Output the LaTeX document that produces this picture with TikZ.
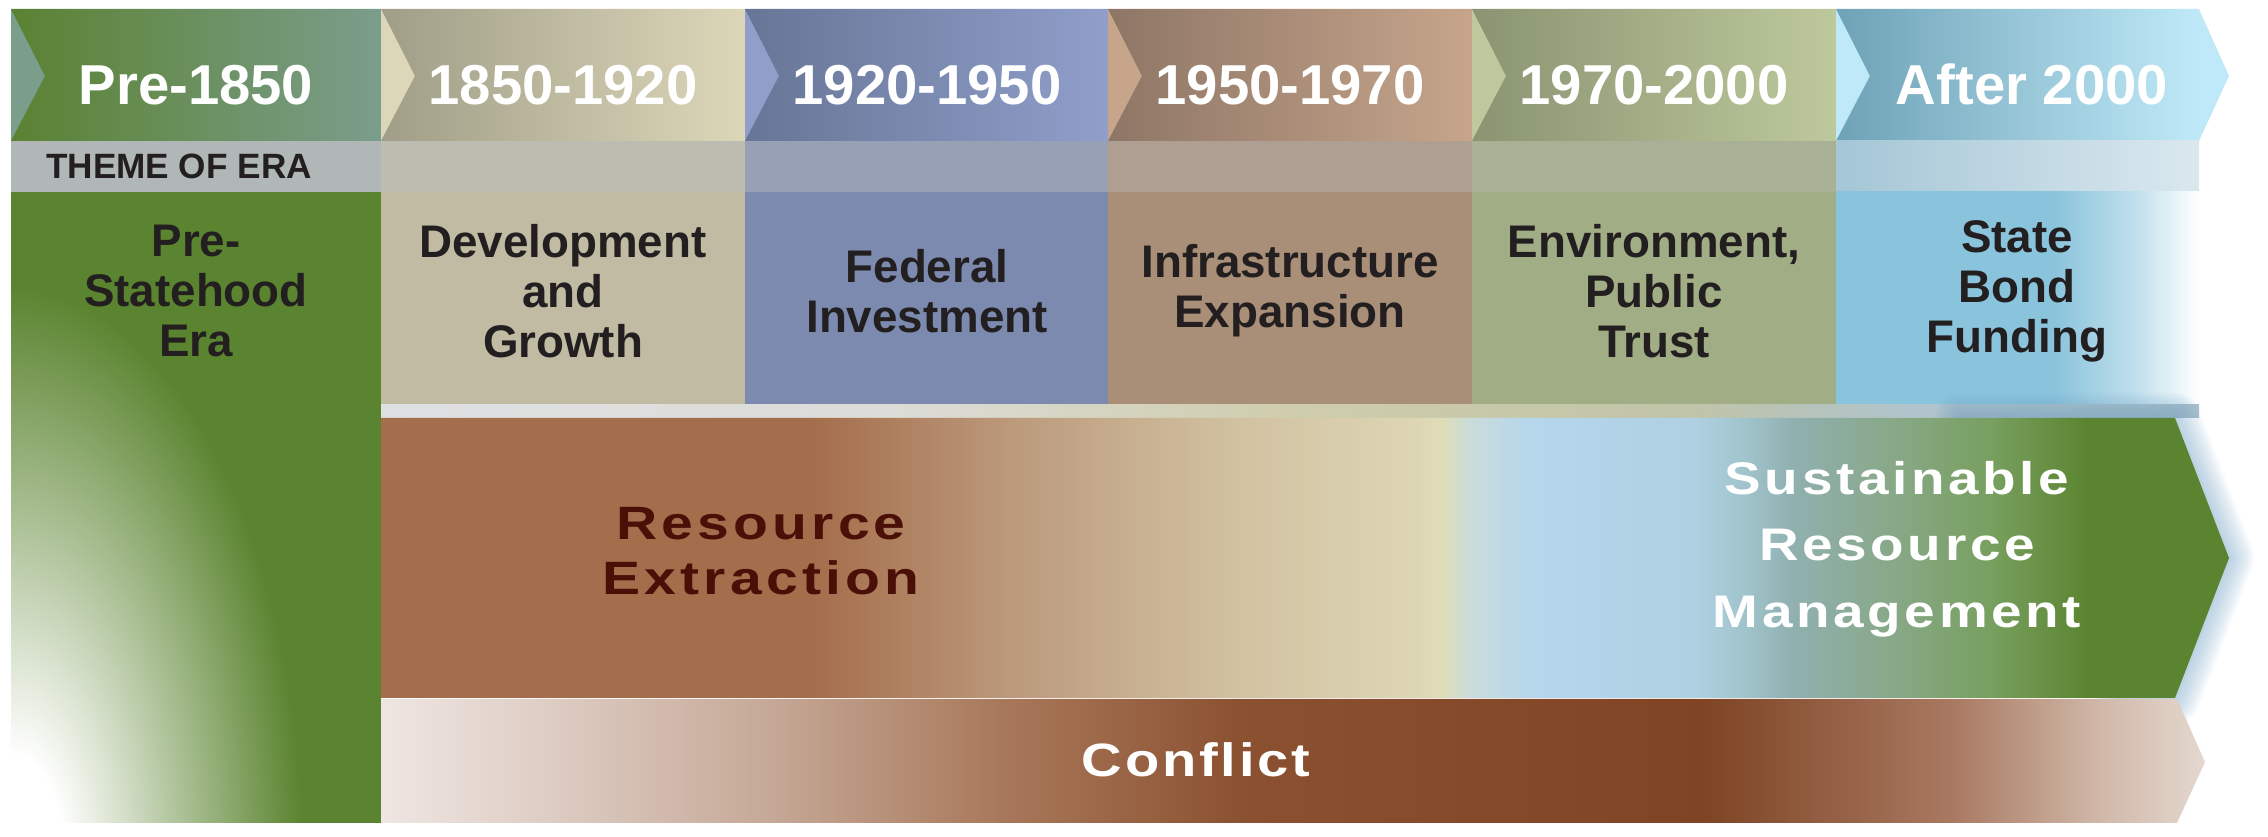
\documentclass[tikz,border=0pt]{standalone}
\usepackage{fontspec}
\setmainfont{Liberation Sans}
\newfontfamily\wideTrack[LetterSpace=9, FakeStretch=1.22]{Liberation Sans}
\newfontfamily\midTrack[LetterSpace=8, FakeStretch=1.2]{Liberation Sans}
\newfontfamily\slimTrack[LetterSpace=6, FakeStretch=1.2]{Liberation Sans}

\begin{document}
\begin{tikzpicture}[x=0.01cm, y=-0.01cm,
  yearlabel/.style={font=\fontsize{16pt}{18pt}\selectfont\bfseries, text=white, anchor=base, inner sep=0pt},
  themelabel/.style={font=\fontsize{13pt}{14.2pt}\selectfont\bfseries, text=inkLAT, align=center, inner sep=0pt},
  bandlabel/.style={align=center, inner sep=0pt}]

\definecolor{inkLAT}{HTML}{231f20}
\definecolor{greenLAT}{HTML}{5b8430}
\definecolor{preHA}{HTML}{5a8232}
\definecolor{preHB}{HTML}{7b9d8c}
\definecolor{preTM}{HTML}{b0b7b6}
\definecolor{devHA}{HTML}{a09e88}
\definecolor{devHB}{HTML}{ddd7b9}
\definecolor{devTM}{HTML}{bdbcb1}
\definecolor{devBD}{HTML}{c0bba2}
\definecolor{fedHA}{HTML}{677596}
\definecolor{fedHB}{HTML}{909fca}
\definecolor{fedTM}{HTML}{97a0b4}
\definecolor{fedBD}{HTML}{7b8aae}
\definecolor{infHA}{HTML}{8e7666}
\definecolor{infHB}{HTML}{c6a58b}
\definecolor{infTM}{HTML}{ae9f92}
\definecolor{infBD}{HTML}{a98e78}
\definecolor{envHA}{HTML}{8a9472}
\definecolor{envHB}{HTML}{bdc99c}
\definecolor{envTM}{HTML}{a8b096}
\definecolor{envBD}{HTML}{a1ad85}
\definecolor{bndHA}{HTML}{6ea2b6}
\definecolor{bndHB}{HTML}{bfe9f8}
\definecolor{bndTM}{HTML}{a4c6d6}
\definecolor{bndBD}{HTML}{8ac4dc}
\definecolor{glowLAT}{HTML}{6f9fc4}
\definecolor{extractLAT}{HTML}{4a1008}
\definecolor{stA}{HTML}{dfe0e2}
\definecolor{stB}{HTML}{dcdcd8}
\definecolor{stC}{HTML}{cfcdac}
\definecolor{stD}{HTML}{c0c4a8}
\definecolor{stE}{HTML}{b0c4cc}
\definecolor{stF}{HTML}{a8c0cc}
\definecolor{rsA}{HTML}{a46d4b}
\definecolor{rsB}{HTML}{bc9a7c}
\definecolor{rsC}{HTML}{d0c0a0}
\definecolor{rsD}{HTML}{ddd6b4}
\definecolor{rsE}{HTML}{e0dcb8}
\definecolor{rsF}{HTML}{c8dcdc}
\definecolor{rsG}{HTML}{b6d6ec}
\definecolor{rsH}{HTML}{aed0e2}
\definecolor{rsI}{HTML}{a0c4cc}
\definecolor{rsJ}{HTML}{90b0b0}
\definecolor{rsK}{HTML}{88a888}
\definecolor{rsL}{HTML}{78a060}
\definecolor{cfA}{HTML}{efe6e2}
\definecolor{cfB}{HTML}{e0d0c8}
\definecolor{cfC}{HTML}{c4a694}
\definecolor{cfD}{HTML}{a8785a}
\definecolor{cfE}{HTML}{8a5030}
\definecolor{cfF}{HTML}{7e4424}
\definecolor{cfG}{HTML}{a87860}
\definecolor{cfH}{HTML}{d0b8a8}
\definecolor{cfI}{HTML}{e4d8d0}
\colorlet{preMid}{greenLAT!45!white}
\colorlet{bndMid}{bndBD!55!white}

\pgfdeclareradialshading{prefade}{\pgfpoint{0bp}{0bp}}{color(0bp)=(white); color(4bp)=(white); color(12bp)=(preMid); color(22bp)=(greenLAT); color(50bp)=(greenLAT)}
\pgfdeclarehorizontalshading{bondfade}{100bp}{color(0bp)=(bndBD); color(55bp)=(bndBD); color(66bp)=(bndMid); color(75bp)=(white); color(100bp)=(white)}
\pgfdeclarehorizontalshading{stripeshade}{100bp}{color(0bp)=(stA); color(25bp)=(stA); color(39bp)=(stB); color(50bp)=(stC); color(61bp)=(stD); color(67bp)=(stE); color(75bp)=(stF); color(100bp)=(stF)}
\pgfdeclarehorizontalshading{resourceshade}{100bp}{color(0bp)=(rsA); color(36.6bp)=(rsA); color(42.1bp)=(rsB); color(47.9bp)=(rsC); color(53bp)=(rsD); color(53.7bp)=(rsE); color(54.5bp)=(rsF); color(56.1bp)=(rsG); color(60.6bp)=(rsH); color(61.9bp)=(rsI); color(63.2bp)=(rsJ); color(65.9bp)=(rsK); color(68.5bp)=(rsL); color(71.2bp)=(greenLAT); color(100bp)=(greenLAT)}
\pgfdeclarehorizontalshading{conflictshade}{100bp}{color(0bp)=(cfA); color(25bp)=(cfA); color(29bp)=(cfB); color(36bp)=(cfC); color(42bp)=(cfD); color(48.8bp)=(cfE); color(61.2bp)=(cfF); color(68bp)=(cfG); color(72.1bp)=(cfH); color(75bp)=(cfI); color(100bp)=(cfI)}

\useasboundingbox (0,0) rectangle (2268,837);

\foreach \x/\r/\ha/\hb/\tm/\bd in {11/381/preHA/preHB/preTM/greenLAT, 381/745/devHA/devHB/devTM/devBD,
    745/1108/fedHA/fedHB/fedTM/fedBD, 1108/1472/infHA/infHB/infTM/infBD,
    1472/1836/envHA/envHB/envTM/envBD, 1836/2199/bndHA/bndHB/bndTM/bndBD} {
  \fill[\hb] (\x,9) rectangle (\r,141);
  \shade[left color=\ha, right color=\hb] (\x,9) -- (\r,9) -- (\r,141) -- (\x,141) -- (\x+34,76) -- cycle;
  \fill[\tm] (\x,141) rectangle (\r,192);
  \fill[\bd] (\x,192) rectangle (\r,405);
}

\fill[bndHB] (2199,9) -- (2229,76) -- (2199,141) -- cycle;
\shade[left color=bndTM, right color=bndTM!40!white] (1836,141) rectangle (2199,192);
\shade[shading=bondfade] (1836,192) rectangle (2199,405);

\fill[greenLAT] (11,192) rectangle (381,823);
\begin{scope}
  \clip (11,192) rectangle (381,823);
  \shade[shading=prefade] (11,860) ellipse [x radius=3.3cm, y radius=6.5cm];
\end{scope}

\shade[shading=stripeshade] (381,405) rectangle (2199,418);

\foreach \k in {1,...,10}
  \draw[glowLAT, line width=\k*0.5mm, opacity=0.06, line join=round, line cap=round] (1960,418) -- (2175,418) -- (2229,558) -- (2175,698) -- (2120,698);

\shade[shading=resourceshade] (381,418) -- (2175,418) -- (2229,558) -- (2175,698) -- (381,698) -- cycle;
\shade[shading=conflictshade] (381,699) -- (2177,699) -- (2205,762) -- (2177,823) -- (381,823) -- cycle;

\foreach \c/\n/\yr/\th in {196/pre/Pre-1850/{Pre-\\Statehood\\Era}, 563/dev/1850-1920/{Development\\and\\Growth},
    927/fed/1920-1950/{Federal\\Investment}, 1290/inf/1950-1970/{Infrastructure\\Expansion},
    1654/env/1970-2000/{Environment,\\Public\\Trust}} {
  \node[yearlabel] (\n-year) at (\c,105) {\yr};
  \node[themelabel] (\n-theme) at (\c,291) {\th};
}
\node[yearlabel] (bnd-year) at (2032,105) {After 2000};
\node[themelabel] (bnd-theme) at (2017,291) {State\\Bond\\Funding};

\node[font=\fontsize{10pt}{11pt}\selectfont\bfseries, text=inkLAT, inner sep=0pt] (era-head) at (179,166) {THEME OF ERA};

\node[bandlabel, font=\wideTrack\fontsize{13.3pt}{15.6pt}\selectfont\bfseries, text=extractLAT] (extract) at (761,551) {Resource\\Extraction};
\node[bandlabel, font=\midTrack\fontsize{13pt}{18.9pt}\selectfont\bfseries, text=white] (sustain) at (1897,549) {Sustainable\\Resource\\Management};
\node[bandlabel, font=\slimTrack\fontsize{13.3pt}{16pt}\selectfont\bfseries, text=white] (conflict) at (1196,760) {Conflict};
\end{tikzpicture}
\end{document}
